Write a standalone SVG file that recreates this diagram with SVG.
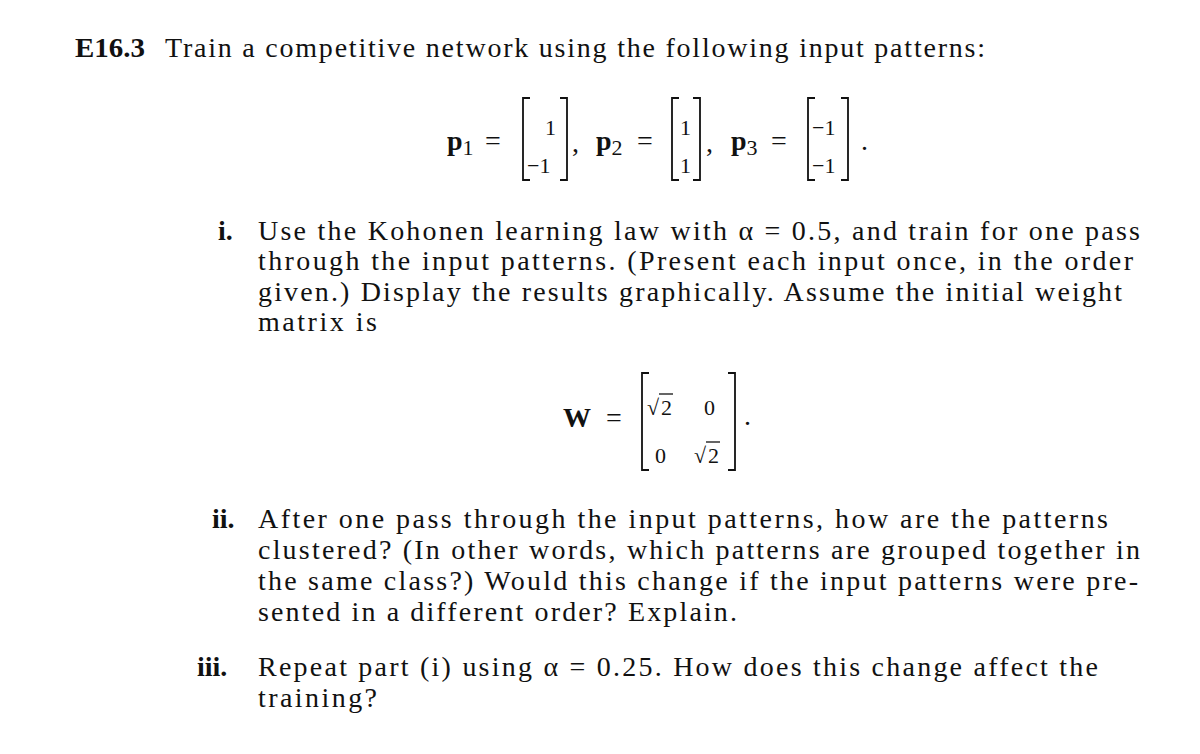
<svg xmlns="http://www.w3.org/2000/svg" width="1200" height="754" viewBox="0 0 1200 754">
<style>
text{font-family:"Liberation Serif","DejaVu Serif",serif;fill:#111}
.t{font-size:28px}
.b{font-weight:bold}
.m{font-size:22px}
.br{fill:none;stroke:#111;stroke-width:1.8}
</style>
<rect width="1200" height="754" fill="#fff"/>
<g id="title">
<text class="t b" x="75" y="57" textLength="70" lengthAdjust="spacingAndGlyphs">E16.3</text>
<text class="t" x="165" y="57" textLength="820" lengthAdjust="spacing">Train a competitive network using the following input patterns:</text>
</g>
<g id="patterns">
<text class="t b" x="447" y="150">p<tspan class="m" font-weight="normal" dy="5">1</tspan></text>
<text class="t" x="485" y="150">=</text>
<path class="br" d="M530,98 H523 V180 H530 M560,98 H567 V180 H560"/>
<text class="m" x="545" y="135">1</text>
<text class="m" x="527" y="173">−1</text>
<text class="t" x="572" y="152">,</text>
<text class="t b" x="596" y="150">p<tspan class="m" font-weight="normal" dy="5">2</tspan></text>
<text class="t" x="637" y="150">=</text>
<path class="br" d="M679,98 H672 V180 H679 M693,98 H700 V180 H693"/>
<text class="m" x="680" y="135">1</text>
<text class="m" x="680" y="173">1</text>
<text class="t" x="706" y="152">,</text>
<text class="t b" x="731" y="150">p<tspan class="m" font-weight="normal" dy="5">3</tspan></text>
<text class="t" x="771" y="150">=</text>
<path class="br" d="M815,98 H808 V180 H815 M841,98 H848 V180 H841"/>
<text class="m" x="812" y="135">−1</text>
<text class="m" x="812" y="173">−1</text>
<text class="t" x="861" y="150">.</text>
</g>
<g id="part-i">
<text class="t b" x="218" y="240">i.</text>
<text class="t" x="258" y="240" textLength="882" lengthAdjust="spacing">Use the Kohonen learning law with α = 0.5, and train for one pass</text>
<text class="t" x="258" y="270" textLength="875" lengthAdjust="spacing">through the input patterns. (Present each input once, in the order</text>
<text class="t" x="258" y="301" textLength="864" lengthAdjust="spacing">given.) Display the results graphically. Assume the initial weight</text>
<text class="t" x="258" y="331" textLength="119" lengthAdjust="spacing">matrix is</text>
</g>
<g id="weights">
<text class="t b" x="563" y="427">W</text>
<text class="t" x="606" y="427">=</text>
<path class="br" d="M649,373 H642 V470 H649 M728,373 H735 V470 H728"/>
<text class="m" x="647" y="415">√</text>
<line x1="659" y1="394" x2="673" y2="394" stroke="#111" stroke-width="1.3"/>
<text class="m" x="661" y="415">2</text>
<text class="m" x="704" y="415">0</text>
<text class="m" x="655" y="463">0</text>
<text class="m" x="694" y="463">√</text>
<line x1="706" y1="442" x2="720" y2="442" stroke="#111" stroke-width="1.3"/>
<text class="m" x="708" y="463">2</text>
<text class="t" x="744" y="425">.</text>
</g>
<g id="part-ii">
<text class="t b" x="212" y="528">ii.</text>
<text class="t" x="258" y="528" textLength="850" lengthAdjust="spacing">After one pass through the input patterns, how are the patterns</text>
<text class="t" x="258" y="559" textLength="882" lengthAdjust="spacing">clustered? (In other words, which patterns are grouped together in</text>
<text class="t" x="258" y="590" textLength="880" lengthAdjust="spacing">the same class?) Would this change if the input patterns were pre-</text>
<text class="t" x="258" y="621" textLength="479" lengthAdjust="spacing">sented in a different order? Explain.</text>
</g>
<g id="part-iii">
<text class="t b" x="197" y="676">iii.</text>
<text class="t" x="258" y="676" textLength="840" lengthAdjust="spacing">Repeat part (i) using α = 0.25. How does this change affect the</text>
<text class="t" x="258" y="707" textLength="119" lengthAdjust="spacing">training?</text>
</g>
</svg>
